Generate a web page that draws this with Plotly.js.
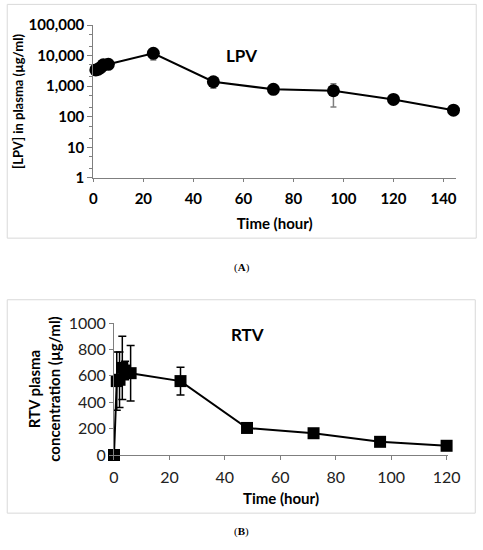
<!DOCTYPE html>
<html>
<head>
<meta charset="utf-8">
<script src="https://cdn.plot.ly/plotly-3.0.1.min.js"></script>
<style>
  body { margin: 0; background: #fff; }
  #chart { width: 483px; height: 550px; }
</style>
</head>
<body>
<div id="chart"></div>
<script>
// LPV (panel A), log scale
const lpvTime = [1, 2, 3, 4, 6, 24, 48, 72, 96, 120, 144];
const lpvConc = [3400, 3600, 4100, 5000, 5200, 11900, 1400, 790, 710, 370, 165];
const lpvErr = [300, 300, 400, 400, 400, 4700, 550, 80, 500, 40, 15];

// RTV (panel B), linear scale
const rtvTime = [0, 1, 2, 3, 4, 6, 24, 48, 72, 96, 120];
const rtvConc = [0, 560, 570, 660, 640, 620, 560, 205, 165, 100, 70];
const rtvErr = [0, 220, 210, 240, 70, 210, 105, 30, 15, 10, 8];

const lpvTicks = [1, 10, 100, 1000, 10000, 100000];

const font = "Lato, 'Open Sans', sans-serif";

const data = [
	{
		x: lpvTime,
		y: lpvConc,
		type: "scatter",
		mode: "lines+markers",
		cliponaxis: false,
		line: { color: "#000", width: 2 },
		marker: { color: "#000", size: 13, symbol: "circle" },
		error_y: { type: "data", array: lpvErr, visible: true, color: "#7f7f7f", thickness: 1.5, width: 3 },
		xaxis: "x",
		yaxis: "y",
	},
	{
		x: rtvTime,
		y: rtvConc,
		type: "scatter",
		mode: "lines+markers",
		cliponaxis: false,
		line: { color: "#000", width: 2 },
		marker: { color: "#000", size: 12, symbol: "square" },
		error_y: { type: "data", array: rtvErr, visible: true, color: "#000", thickness: 1.5, width: 4 },
		xaxis: "x2",
		yaxis: "y2",
	},
];

const boldTick = { family: font, size: 15, color: "#000", weight: "bold" };
const plainTick = { family: font, size: 16, color: "#222" };
const xTitle = { family: font, size: 15, color: "#000", weight: "bold" };
const yTitle = { family: font, size: 13, color: "#000", weight: "bold" };
const yTitle2 = { family: font, size: 15, color: "#000", weight: "bold" };

const layout = {
	width: 483,
	height: 550,
	paper_bgcolor: "#fff",
	plot_bgcolor: "rgba(0,0,0,0)",
	showlegend: false,
	margin: { l: 0, r: 0, t: 0, b: 0 },
	xaxis: {
		domain: [0.1932, 0.9441],
		anchor: "y",
		range: [0, 145],
		tickvals: [0, 20, 40, 60, 80, 100, 120, 140],
		showgrid: false,
		zeroline: false,
		showline: true,
		linecolor: "#7f7f7f",
		linewidth: 1,
		ticks: "outside",
		ticklen: 3,
		tickcolor: "#7f7f7f",
		ticklabelstandoff: 4,
		tickfont: boldTick,
		title: { text: "Time (hour)", font: xTitle, standoff: 12 },
	},
	yaxis: {
		domain: [0.6764, 0.9545],
		anchor: "x",
		type: "log",
		range: [0, 5],
		tickvals: lpvTicks,
		tickformat: ",",
		showgrid: false,
		zeroline: false,
		showline: true,
		linecolor: "#7f7f7f",
		linewidth: 1,
		ticks: "outside",
		ticklen: 5,
		tickcolor: "#7f7f7f",
		minor: { ticks: "outside", ticklen: 3, tickcolor: "#7f7f7f", showgrid: false },
		tickfont: boldTick,
		title: { text: "[LPV] in plasma (µg/ml)", font: yTitle, standoff: 2 },
	},
	xaxis2: {
		domain: [0.236, 0.9275],
		anchor: "y2",
		range: [0, 120.5],
		tickvals: [0, 20, 40, 60, 80, 100, 120],
		showgrid: false,
		zeroline: false,
		showline: true,
		linecolor: "#7f7f7f",
		linewidth: 1,
		ticks: "outside",
		ticklen: 4,
		tickcolor: "#7f7f7f",
		ticklabelstandoff: 4,
		tickfont: plainTick,
		title: { text: "Time (hour)", font: xTitle, standoff: 8 },
	},
	yaxis2: {
		domain: [0.1727, 0.4127],
		anchor: "x2",
		range: [0, 1000],
		dtick: 200,
		showgrid: false,
		zeroline: false,
		showline: true,
		linecolor: "#7f7f7f",
		linewidth: 1,
		ticks: "outside",
		ticklen: 4,
		tickcolor: "#7f7f7f",
		tickfont: plainTick,
		title: { text: "RTV plasma<br>concentration (µg/ml)", font: yTitle2, standoff: 4 },
	},
	shapes: [
		{ type: "rect", xref: "paper", yref: "paper", x0: 0.015, x1: 0.986, y0: 0.567, y1: 0.992, line: { color: "#d9d9d9", width: 1 } },
		{ type: "rect", xref: "paper", yref: "paper", x0: 0.015, x1: 0.984, y0: 0.067, y1: 0.455, line: { color: "#d9d9d9", width: 1 } },
	],
	annotations: [
		{ text: "LPV", xref: "paper", yref: "paper", x: 0.499, y: 0.922, showarrow: false, font: { family: font, size: 17, color: "#000", weight: "bold" } },
		{ text: "RTV", xref: "paper", yref: "paper", x: 0.513, y: 0.391, showarrow: false, font: { family: font, size: 17, color: "#000", weight: "bold" } },
		{ text: "(<b>A</b>)", xref: "paper", yref: "paper", x: 0.5, y: 0.513, showarrow: false, font: { family: "'Liberation Serif', serif", size: 11, color: "#000" } },
		{ text: "(<b>B</b>)", xref: "paper", yref: "paper", x: 0.5, y: 0.018, showarrow: false, font: { family: "'Liberation Serif', serif", size: 11, color: "#000" } },
	],
};

const config = { displayModeBar: false, staticPlot: true };

Plotly.newPlot("chart", data, layout, config);
</script>
</body>
</html>
